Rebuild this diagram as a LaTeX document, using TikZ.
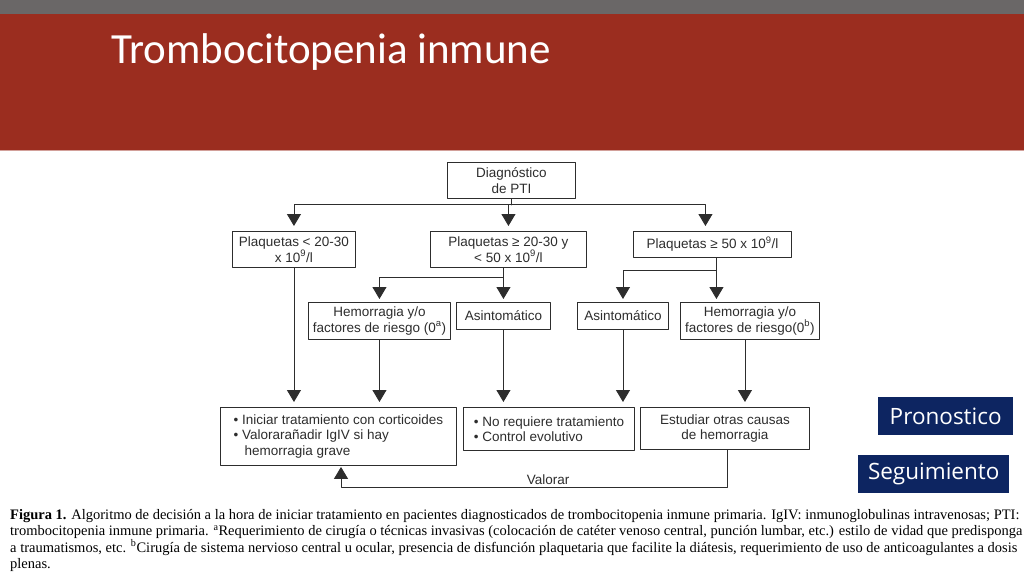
\documentclass[tikz,border=0pt]{standalone}
\usepackage{fontspec}
\setmainfont{Liberation Serif}
\newfontfamily\flowfont{Liberation Sans}
\newfontfamily\titlefont{Carlito}
\newfontfamily\tagfont{Open Sans}
\usetikzlibrary{arrows.meta}
\definecolor{topgray}{RGB}{106,103,103}
\definecolor{bandred}{RGB}{155,45,31}
\definecolor{tagblue}{RGB}{13,37,97}
\definecolor{flowgray}{RGB}{45,45,45}

\begin{document}
\begin{tikzpicture}[x=1pt,y=-1pt,line cap=round,line join=round,
  box/.style={draw=flowgray,line width=0.9pt,text=flowgray,font=\flowfont\fontsize{13.5}{15.5}\selectfont,
    align=center,inner sep=0pt,anchor=north west},
  arr/.style={draw=flowgray,line width=0.9pt,-{Triangle[length=12pt,width=14pt]},shorten >=5pt},
  link/.style={draw=flowgray,line width=0.9pt},
  tag/.style={fill=tagblue,text=white,font=\tagfont\fontsize{22.5}{26}\selectfont,inner sep=0pt,anchor=north west},
  captext/.style={anchor=base west,inner sep=0pt,text=black,font=\fontsize{14.5}{16}\selectfont}]
  \useasboundingbox (0,0) rectangle (1024,576);
  \fill[white] (0,0) rectangle (1024,576);
  % header band
  \fill[topgray] (0,0) rectangle (1024,14);
  \fill[bandred] (0,14) rectangle (1024,150);
  \draw[bandred!45,line width=1pt] (0,150.5) -- (1024,150.5);
  \node[anchor=base west,inner sep=0pt,text=white,font=\titlefont\fontsize{43}{48}\selectfont] (title) at (111,63) {Trombocitopenia inmune};

  % boxes
  \node[box,minimum width=128pt,minimum height=36pt] (diag) at (447,162) {Diagnóstico\\de PTI};
  \node[box,minimum width=123pt,minimum height=36pt] (p1) at (232,231) {Plaquetas < 20-30\\x 10\textsuperscript{9}/l};
  \node[box,minimum width=156pt,minimum height=36pt] (p2) at (430,231) {Plaquetas ≥ 20-30 y\\< 50 x 10\textsuperscript{9}/l};
  \node[box,minimum width=158pt,minimum height=26pt] (p3) at (633,231) {Plaquetas ≥ 50 x 10\textsuperscript{9}/l};
  \node[box,minimum width=142pt,minimum height=37pt] (h1) at (308,302) {Hemorragia y/o\\factores de riesgo (0\textsuperscript{a})};
  \node[box,minimum width=94pt,minimum height=27pt] (a1) at (456,302) {Asintomático};
  \node[box,minimum width=91pt,minimum height=27pt] (a2) at (577,302) {Asintomático};
  \node[box,minimum width=139pt,minimum height=37pt] (h2) at (680,302) {Hemorragia y/o\\factores de riesgo(0\textsuperscript{b})};
  \node[box,minimum width=236pt,minimum height=58pt,align=left] (t1) at (220,407) {• Iniciar tratamiento con corticoides\\• Valorarañadir IgIV si hay\\\hspace*{11pt}hemorragia grave};
  \node[box,minimum width=171pt,minimum height=43pt,align=left] (t2) at (463,407) {• No requiere tratamiento\\• Control evolutivo};
  \node[box,minimum width=169pt,minimum height=42pt] (t3) at (640,407) {Estudiar otras causas\\de hemorragia};

  % connectors
  \draw[link] (diag.south) -- ++(0,6) coordinate (s0);
  \draw[arr] (s0) -| (p1.north);
  \draw[arr] (s0) -| ([xshift=-7pt]p3.north);
  \draw[arr] (s0 -| p2.north) -- (p2.north);
  \draw[link] (a1.north |- p2.south) -- ++(0,10) coordinate (s2);
  \draw[arr,shorten >=3pt] (s2) -| (h1.north);
  \draw[arr,shorten >=3pt] (s2) -- (s2 |- a1.north);
  \draw[link] ([xshift=4pt]p3.south) -- ++(0,13) coordinate (s3);
  \draw[arr,shorten >=3pt] (s3) -| (a2.north);
  \draw[arr,shorten >=3pt] (s3) -- (s3 |- h2.north);
  \draw[arr] (p1.south) -- (p1.south |- t1.north);
  \draw[arr] (h1.south) -- (h1.south |- t1.north);
  \draw[arr] (a1.south) -- (a1.south |- t2.north);
  \draw[arr] (a2.south) -- (a2.south |- t2.north);
  \draw[arr] ([xshift=-5pt]h2.south) -- ([xshift=-5pt]h2.south |- t3.north);
  \coordinate (vturn) at (341,487);
  \draw[arr,shorten >=1pt] ([xshift=2pt]t3.south) |- (vturn) -- (t1.south -| vturn);
  \node[anchor=base,inner sep=0pt,text=flowgray,font=\flowfont\fontsize{13.5}{15.5}\selectfont] (valorar) at (548,484) {Valorar};

  % side tags
  \node[tag,minimum width=135pt,minimum height=38pt] (prono) at (878,397) {Pronostico};
  \node[tag,minimum width=151pt,minimum height=38pt] (segui) at (858,455) {Seguimiento};

  % caption
  \begin{scope}
    \clip (0,495) rectangle (1024,576);
    \node[captext] (cap1) at (10,519) {\textbf{Figura 1.} Algoritmo de decisión a la hora de iniciar tratamiento en pacientes diagnosticados de trombocitopenia inmune primaria. IgIV: inmunoglobulinas intravenosas; PTI:};
    \node[captext] (cap2) at (10,535.5) {trombocitopenia inmune primaria. \textsuperscript{a}Requerimiento de cirugía o técnicas invasivas (colocación de catéter venoso central, punción lumbar, etc.) estilo de vidad que predisponga};
    \node[captext] (cap3) at (10,552) {a traumatismos, etc. \textsuperscript{b}Cirugía de sistema nervioso central u ocular, presencia de disfunción plaquetaria que facilite la diátesis, requerimiento de uso de anticoagulantes a dosis};
    \node[captext] (cap4) at (10,568.5) {plenas.};
  \end{scope}
\end{tikzpicture}
\end{document}
